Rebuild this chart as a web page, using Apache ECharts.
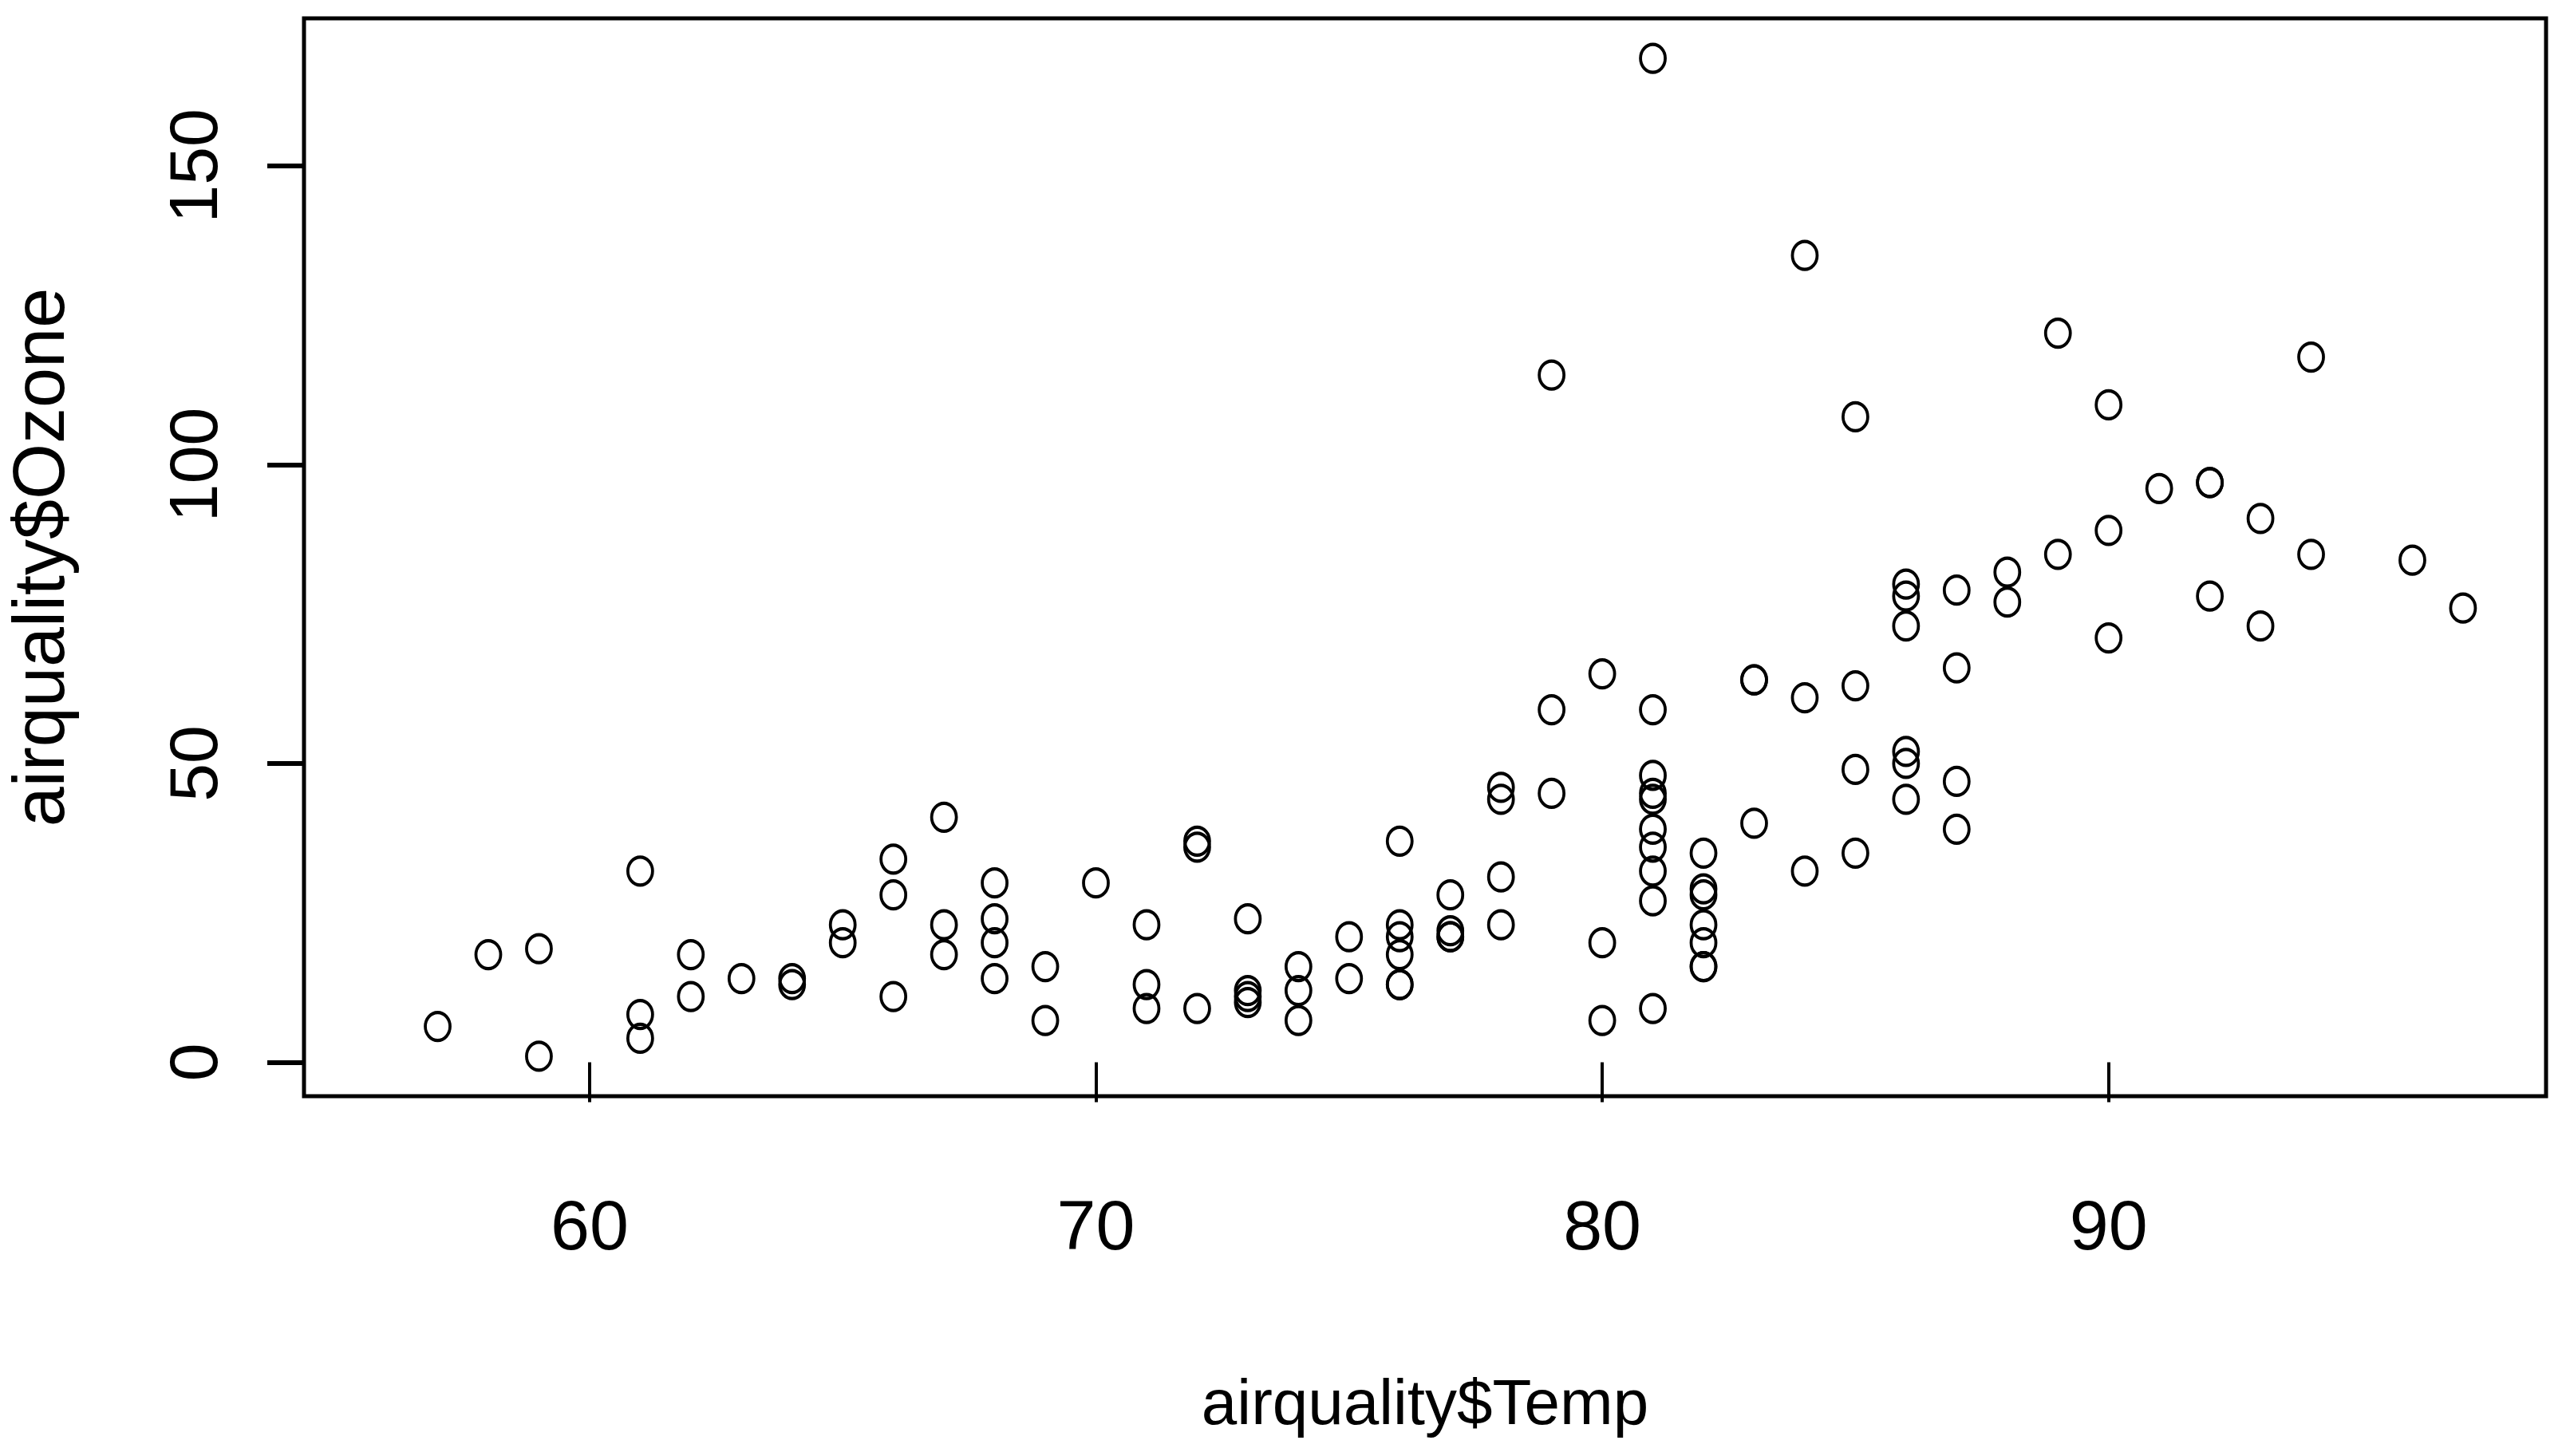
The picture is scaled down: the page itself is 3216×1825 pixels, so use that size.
<!DOCTYPE html>
<html>
<head>
<meta charset="utf-8">
<script src="https://cdn.jsdelivr.net/npm/echarts@6/dist/echarts.min.js"></script>
<style>
html,body{margin:0;padding:0;background:#fff;}
#chart{width:3216px;height:1825px;}
</style>
</head>
<body>
<div id="chart"></div>
<script>
// airquality: Temp (x) and Ozone (y), rows with non-missing Ozone
const temp = [67,72,74,62,66,65,59,61,74,69,66,68,58,64,66,57,68,62,59,73,61,61,67,81,79,76,
  82,90,87,82,77,72,65,73,76,84,85,81,83,83,88,92,92,89,73,81,80,81,82,84,87,85,74,86,85,82,86,88,86,83,81,81,81,82,86,85,87,89,90,90,
  86,82,80,77,79,76,78,78,77,72,79,81,86,97,94,96,94,91,92,93,93,87,84,80,78,75,73,81,76,77,71,71,78,67,76,68,82,64,71,81,69,63,70,75,76,68];
const ozone = [41,36,12,18,28,23,19,8,7,16,11,14,18,14,34,6,30,11,1,11,4,32,23,45,115,37,
  29,71,39,23,21,37,20,12,13,135,49,32,64,40,77,97,97,85,10,27,7,48,35,61,79,63,16,80,108,20,52,82,50,64,59,39,9,16,78,35,66,122,89,110,
  44,28,65,22,59,23,31,44,21,9,45,168,73,76,118,84,85,96,78,73,91,47,32,20,23,21,24,44,21,28,9,13,46,18,13,24,16,13,23,36,7,14,30,14,18,20];

const xTicks = [60, 70, 80, 90];
const yTicks = [0, 50, 100, 150];
const xTitle = 'airquality$Temp';
const yTitle = 'airquality$Ozone';

// R default axis ranges: data range extended by 4% on each side
const xMin = 56, xMax = 97, yMin = 1, yMax = 168;
const xPad = (xMax - xMin) * 0.04, yPad = (yMax - yMin) * 0.04;

const points = temp.map((t, i) => [t, ozone[i]]);

const chart = echarts.init(document.getElementById('chart'), null, {renderer: 'canvas'});
const regular = "'Liberation Sans', Arial, sans-serif";
const ellipse = 'path://M0,-1C0.5523,-1,1,-0.5523,1,0C1,0.5523,0.5523,1,0,1C-0.5523,1,-1,0.5523,-1,0C-1,-0.5523,-0.5523,-1,0,-1Z';

chart.setOption({
  animation: false,
  backgroundColor: '#ffffff',
  grid: {
    left: 381, right: 25, top: 23, bottom: 451,
    show: true, borderColor: '#000', borderWidth: 5, backgroundColor: 'transparent'
  },
  xAxis: {
    type: 'value',
    min: xMin - xPad, max: xMax + xPad,
    axisLine: {show: false},
    splitLine: {show: false},
    axisTick: {show: true, inside: false, length: 50, customValues: xTicks, lineStyle: {color: '#000', width: 4}},
    axisLabel: {show: true, customValues: xTicks, margin: 124, color: '#000', fontSize: 88, fontFamily: regular},
    name: xTitle, nameLocation: 'middle', nameGap: 349,
    nameTextStyle: {color: '#000', fontSize: 80, fontFamily: regular}
  },
  yAxis: {
    type: 'value',
    min: yMin - yPad, max: yMax + yPad,
    axisLine: {show: false},
    splitLine: {show: false},
    axisTick: {show: true, inside: false, length: 46, customValues: yTicks, lineStyle: {color: '#000', width: 6}},
    axisLabel: {show: true, customValues: yTicks, rotate: 90, margin: 90, color: '#000', fontSize: 86, fontFamily: regular},
    name: yTitle, nameLocation: 'middle', nameRotate: 90, nameGap: 281,
    nameTextStyle: {color: '#000', fontSize: 90, fontFamily: regular}
  },
  series: [{
    type: 'scatter',
    data: points,
    symbol: ellipse,
    symbolSize: [31, 35],
    itemStyle: {color: 'rgba(0,0,0,0)', borderColor: '#000', borderWidth: 4, opacity: 1},
    emphasis: {disabled: true}
  }]
});
</script>
</body>
</html>
